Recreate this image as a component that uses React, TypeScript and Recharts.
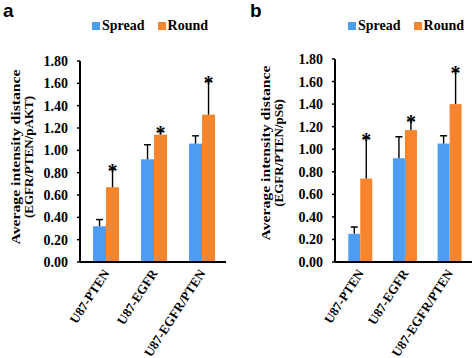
import React from 'react';
import { BarChart, Bar, XAxis, YAxis, Legend } from 'recharts';

const categories = ['U87-PTEN', 'U87-EGFR', 'U87-EGFR/PTEN'];
const seriesNames = ['Spread', 'Round'];
const spreadA = [0.32, 0.92, 1.06];
const spreadErrA = [0.06, 0.13, 0.07];
const roundA = [0.67, 1.14, 1.32];
const roundErrA = [0.16, 0.03, 0.3];
const spreadB = [0.25, 0.92, 1.05];
const spreadErrB = [0.06, 0.19, 0.07];
const roundB = [0.74, 1.17, 1.4];
const roundErrB = [0.36, 0.09, 0.29];
const roundSig = ['*', '*', '*'];
const yTicks = [0, 0.2, 0.4, 0.6, 0.8, 1.0, 1.2, 1.4, 1.6, 1.8];
const yTitleA = ['Average intensity distance', '(EGFR/PTEN/pAKT)'];
const yTitleB = ['Average intensity distance', '(EGFR/PTEN/pS6)'];
const panelLabels = ['a', 'b'];

const BLUE = '#4C9EF2';
const ORANGE = '#F7852E';
const SERIF = '"Liberation Serif", "Times New Roman", serif';

function buildRows(s: number[], se: number[], r: number[], re: number[]) {
  return categories.map((c, i) => ({
    name: c,
    spread: s[i],
    spreadErr: se[i],
    round: r[i],
    roundErr: re[i],
    sig: roundSig[i],
  }));
}

const dataA = buildRows(spreadA, spreadErrA, roundA, roundErrA);
const dataB = buildRows(spreadB, spreadErrB, roundB, roundErrB);

const makeShape = (valKey: string, errKey: string, withSig: boolean) => (props: any) => {
  const { x, y, width, height, fill, payload } = props;
  const v = payload[valKey];
  const err = payload[errKey];
  const ppu = height / v;
  const top = y - err * ppu;
  const cx = x + width / 2;
  return (
    <g>
      <rect x={x} y={y} width={width} height={height} fill={fill} />
      <line x1={cx} x2={cx} y1={y} y2={top} stroke="#000" strokeWidth={1.4} />
      <line x1={cx - 3.5} x2={cx + 3.5} y1={top} y2={top} stroke="#000" strokeWidth={1.4} />
      {withSig && (
        <text x={cx} y={top + 9} textAnchor="middle" fontFamily={SERIF} fontWeight="bold" fontSize={20} fill="#000">
          {payload.sig}
        </text>
      )}
    </g>
  );
};

const XTick = (props: any) => {
  const { x, y, payload } = props;
  return (
    <g transform={`translate(${x + 4},${y + 3})`}>
      <text x={0} y={0} textAnchor="end" transform="rotate(-57)" fontFamily={SERIF} fontWeight="bold" fontSize={13} fill="#000">
        {payload.value}
      </text>
    </g>
  );
};

const LegendContent = (props: any) => {
  const { payload } = props;
  const items = seriesNames
    .map((n) => (payload || []).find((p: any) => p.value === n))
    .filter(Boolean);
  return (
    <div style={{ display: 'flex', alignItems: 'center', fontFamily: SERIF, fontWeight: 'bold', fontSize: 14, color: '#000', lineHeight: '16px' }}>
      {items.map((p: any, i: number) => (
        <div key={i} style={{ display: 'flex', alignItems: 'center', marginRight: i === 0 ? 13 : 0 }}>
          <span style={{ display: 'inline-block', width: 8, height: 8, background: p.color, marginRight: 2 }} />
          <span>{p.value}</span>
        </div>
      ))}
    </div>
  );
};

function Panel(props: { data: any[]; top: number; yw: number; right: number; padLeft: number; legendLeft: number }) {
  const { data, top, yw, right, padLeft, legendLeft } = props;
  return (
    <BarChart width={237} height={358} data={data} margin={{ top, right, left: 0, bottom: 6 }} barCategoryGap="23%" barGap={0}>
      <XAxis
        dataKey="name"
        interval={0}
        height={90}
        tick={<XTick />}
        tickLine={false}
        axisLine={{ stroke: '#000', strokeWidth: 2 }}
        padding={{ left: padLeft, right: 0 }}
      />
      <YAxis
        width={yw}
        domain={[0, 1.8]}
        ticks={yTicks}
        tickFormatter={(v: number) => v.toFixed(2)}
        tick={{ fontFamily: SERIF, fontWeight: 'bold', fontSize: 14, fill: '#000' }}
        tickSize={3}
        tickMargin={9}
        tickLine={{ stroke: '#000', strokeWidth: 1.5 }}
        axisLine={{ stroke: '#000', strokeWidth: 2 }}
        allowDataOverflow
      />
      <Legend
        content={<LegendContent />}
        verticalAlign="top"
        wrapperStyle={{ position: 'absolute', top: 18, left: legendLeft, width: 'auto' }}
      />
      <Bar dataKey="spread" name={seriesNames[0]} fill={BLUE} isAnimationActive={false} shape={makeShape('spread', 'spreadErr', false)} />
      <Bar dataKey="round" name={seriesNames[1]} fill={ORANGE} isAnimationActive={false} shape={makeShape('round', 'roundErr', true)} />
    </BarChart>
  );
}

function YTitle(props: { lines: string[]; x1: number; x2: number; cy: number }) {
  const { lines, x1, x2, cy } = props;
  return (
    <g fontFamily={SERIF} fontWeight="bold" fill="#000">
      <text x={x1} y={cy} transform={`rotate(-90 ${x1} ${cy})`} textAnchor="middle" fontSize={13.5} textLength={175} lengthAdjust="spacingAndGlyphs" dominantBaseline="central">
        {lines[0]}
      </text>
      <text x={x2} y={cy} transform={`rotate(-90 ${x2} ${cy})`} textAnchor="middle" fontSize={13} dominantBaseline="central">
        {lines[1]}
      </text>
    </g>
  );
}

export default function App() {
  return (
    <div style={{ position: 'absolute', left: 0, top: 0, width: 474, height: 358, background: '#fff', overflow: 'hidden' }}>
      <div style={{ position: 'absolute', left: 0, top: 0 }}>
        <Panel data={dataA} top={45} yw={80} right={11} padLeft={2} legendLeft={92} />
      </div>
      <div style={{ position: 'absolute', left: 237, top: 0 }}>
        <Panel data={dataB} top={43} yw={98} right={2} padLeft={3} legendLeft={111} />
      </div>
      <svg width={474} height={358} style={{ position: 'absolute', left: 0, top: 0, pointerEvents: 'none' }}>
        <text x={3} y={17} fontFamily='"Liberation Sans", Arial, sans-serif' fontWeight="bold" fontSize={19} fill="#000">{panelLabels[0]}</text>
        <text x={250} y={17} fontFamily='"Liberation Sans", Arial, sans-serif' fontWeight="bold" fontSize={19} fill="#000">{panelLabels[1]}</text>
        <YTitle lines={yTitleA} x1={15} x2={28} cy={157} />
        <YTitle lines={yTitleB} x1={265} x2={278} cy={153} />
      </svg>
    </div>
  );
}
